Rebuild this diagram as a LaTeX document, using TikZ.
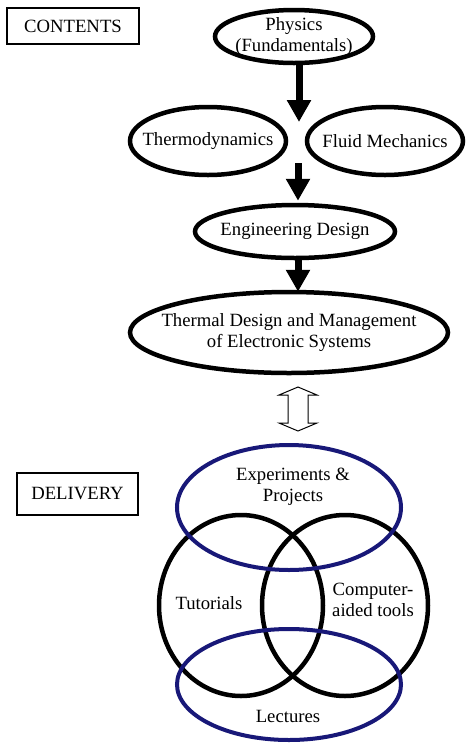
\documentclass[tikz,border=0pt]{standalone}
\usepackage{fontspec}
\setmainfont{Liberation Serif}
\usetikzlibrary{arrows.meta,shapes.geometric}
\definecolor{navy}{RGB}{24,24,120}
\tikzset{
  txt/.style={font=\fontsize{18.7}{21}\selectfont, align=center, inner sep=0pt},
  oval/.style={ellipse, draw=black, line width=4.5pt, inner sep=0pt},
  ring/.style={ellipse, draw=black, line width=4.5pt, inner sep=0pt},
  bluering/.style={ellipse, draw=navy, line width=4pt, inner sep=0pt},
  labelbox/.style={draw=black, line width=1.2pt, inner sep=0pt, txt},
  bigarrow/.style={draw=black, line width=7pt, -{Triangle[width=23pt,length=22pt]}},
  hollow/.style={draw=black, line width=1pt, fill=white, line join=miter}
}
\begin{document}
\begin{tikzpicture}[x=1pt,y=-1pt]
\useasboundingbox (0,0) rectangle (474,748);
% labels
\node[labelbox, minimum width=132pt, minimum height=36pt] (contents) at (73,26) {CONTENTS};
\node[labelbox, minimum width=121pt, minimum height=42pt] (delivery) at (77.5,494) {DELIVERY};
% contents ellipses
\node[oval, minimum width=158pt, minimum height=53pt] (phys) at (294,36.5) {};
\node[txt] (physt) at (phys.center) {Physics\\(Fundamentals)};
\node[oval, minimum width=156pt, minimum height=68pt] (thermo) at (208,141) {};
\node[txt] (thermot) at (thermo.center) {Thermodynamics};
\node[oval, minimum width=156pt, minimum height=68pt] (fluid) at (385,141) {};
\node[txt] (fluidt) at (fluid.center) {Fluid Mechanics};
\node[oval, minimum width=200pt, minimum height=53pt] (eng) at (295,231.5) {};
\node[txt] (engt) at (eng.center) {Engineering Design};
\node[oval, minimum width=318pt, minimum height=81pt] (thermal) at (289,332.5) {};
\node[txt] (thermalt) at (thermal.center) {Thermal Design and Management\\of Electronic Systems};
% arrows
\coordinate (a1end) at (299,122);
\coordinate (a2start) at (298,163);
\draw[bigarrow] (phys.south -| a1end) -- (a1end);
\draw[bigarrow] (a2start) -- ([yshift=2pt]a2start |- eng.north);
\draw[bigarrow] (eng.south -| a2start) -- ([yshift=-2pt]thermal.north -| a2start);
% double hollow arrow
\coordinate (dtop) at (298,387);
\coordinate (dbot) at (298,431);
\draw[hollow] (dtop) -- ++(19,8) -- ++(-9,0) -- ++(0,28) -- ++(9,0) -- (dbot)
  -- ++(-19,-8) -- ++(9,0) -- ++(0,-28) -- ++(-9,0) -- cycle;
% Venn diagram
\node[ring, minimum width=164pt, minimum height=181pt] (tut) at (241,605.5) {};
\node[ring, minimum width=166pt, minimum height=181pt] (comp) at (345,605.5) {};
\node[bluering, minimum width=224pt, minimum height=125pt] (exp) at (289,507.5) {};
\node[bluering, minimum width=224pt, minimum height=111pt] (lec) at (289,684.5) {};
\node[txt] (expt) at (293,487) {Experiments \&\\Projects};
\node[txt] (tutt) at (209,603) {Tutorials};
\node[txt] (compt) at (373,600) {Computer-\\aided tools};
\node[txt] (lect) at (288,716) {Lectures};
\end{tikzpicture}
\end{document}
